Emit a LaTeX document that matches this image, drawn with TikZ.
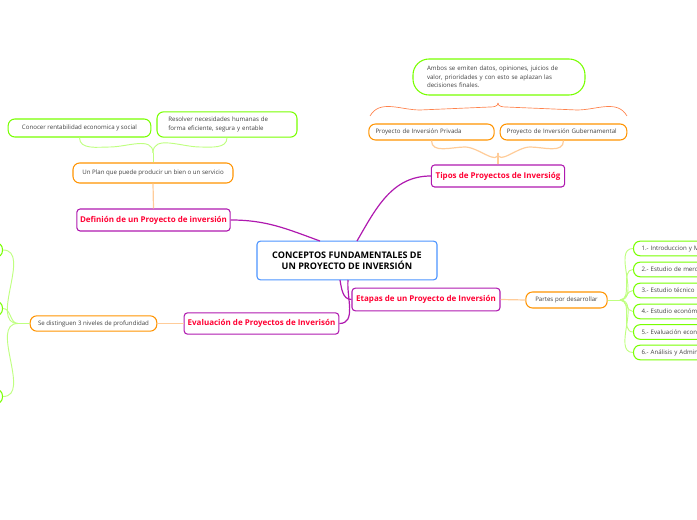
\documentclass[tikz,border=0pt]{standalone}
\usepackage{fontspec}
\setmainfont{Open Sans}
\begin{document}
\begin{tikzpicture}[x=0.75pt,y=-0.75pt,
  base/.style={draw,rounded corners=5pt,line width=0.8pt,inner sep=0pt,align=left,font=\fontsize{4.6}{6.5}\selectfont,text=black!75},
  green/.style={base,draw=green!60!yellow!80!lime},
  orange/.style={base,draw=orange!85!yellow},
  main/.style={draw=violet!70!magenta!90,line width=0.8pt,rounded corners=2.5pt,inner sep=0pt,font=\bfseries\fontsize{6}{8}\selectfont,text=red!80!magenta},
  purp/.style={draw=violet!70!magenta!90,line width=0.9pt},
  ocon/.style={draw=orange!40,line width=0.9pt},
  gcon/.style={draw=green!50!yellow!50,line width=0.7pt}]
\useasboundingbox (0,0) rectangle (697,520);
\clip (0,0) rectangle (697,520);
\node[draw=blue!60!cyan!70,line width=0.8pt,rounded corners=2.5pt,minimum width=135pt,minimum height=29pt,align=center,font=\bfseries\fontsize{6.8}{8.5}\selectfont] (c) at (347,260.5) {CONCEPTOS FUNDAMENTALES DE\\UN PROYECTO DE INVERSIÓN};
% Definicion branch
\node[main,minimum width=115pt,minimum height=16.5pt] (def) at (153.5,220) {Definión de un Proyecto de inversión};
\node[orange,minimum width=120pt,minimum height=15pt,align=center] (plan) at (153,173) {Un Plan que puede producir un bien o un servicio};
\node[green,minimum width=107pt,minimum height=13.5pt,align=center] (con) at (79.5,128) {Conocer rentabilidad economica y social};
\node[green,minimum width=105pt,minimum height=19pt,text width=88pt] (res) at (227,124.5) {Resolver necesidades humanas de\\forma eficiente, segura y entable};
\draw[purp] (def.east) to[out=0,in=160] (320,241);
\draw[ocon] (def.north) -- (plan.south);
\coordinate (jd) at (153,153);
\draw[gcon] (plan.north) -- (jd);
\draw[gcon] (jd) to[out=90,in=0] (110,147) to[out=180,in=-90] (con.south);
\draw[gcon] (jd) to[out=90,in=180] (200,147) to[out=0,in=-90] (res.south);
% Tipos branch
\node[main,minimum width=100pt,minimum height=16.5pt] (tip) at (498,176) {Tipos de Proyectos de Inversióg};
\node[orange,minimum width=94pt,minimum height=12pt,text width=84pt] (pri) at (431.5,132) {Proyecto de Inversión Privada};
\node[orange,minimum width=95pt,minimum height=12pt,text width=85pt] (gub) at (563.5,132) {Proyecto de Inversión Gubernamental};
\node[green,rounded corners=12pt,minimum width=129pt,minimum height=27pt,text width=108pt] (amb) at (499,77) {Ambos se emiten datos, opiniones, juicios de\\valor, prioridades y con esto se aplazan las\\decisiones finales.};
\draw[purp] (tip.west) to[out=180,in=60] (357,241);
\coordinate (jt) at (498,153);
\draw[ocon] (tip.north) -- (jt);
\draw[ocon] (jt) to[out=-90,in=0] (465,147) to[out=180,in=-90] (pri.south);
\draw[ocon] (jt) to[out=-90,in=180] (530,147) to[out=0,in=-90] (gub.south);
\coordinate (bl) at (370,116); \coordinate (br) at (627,116); \coordinate (bm) at (498,103);
\draw[orange!60!red!70,line width=0.5pt] (bl) to[out=60,in=180] (420,110) -- (490,107) to[out=0,in=-90] (bm);
\draw[orange!60!red!70,line width=0.5pt] (br) to[out=120,in=0] (577,110) -- (506,107) to[out=180,in=-90] (bm);
% Etapas branch
\node[main,minimum width=111pt,minimum height=17pt] (eta) at (426,299.5) {Etapas de un Proyecto de Inversión};
\node[orange,minimum width=61pt,minimum height=12pt,align=center] (par) at (566.5,300) {Partes por desarrollar};
\draw[purp] (340,280) to[out=-80,in=180] (eta.west);
\draw[ocon] (eta.east) -- (par.west);
\coordinate (je) at (620,300);
\draw[gcon] (par.east) -- (je);
\foreach \y/\t [count=\i] in {248.5/{1.- Introduccion y Marco de desarrollo},269.5/{2.- Estudio de mercado},290.5/{3.- Estudio técnico},311.5/{4.- Estudio económico},332/{5.- Evaluación economica},352.5/{6.- Análisis y Administración}}{
  \node[green,minimum width=90pt,minimum height=11pt,anchor=west,text width=130pt] (it\i) at (633,\y) {\hspace*{6pt}\t};
  \draw[gcon] (je) to[out=0,in=180] (it\i.west);
}
% Evaluacion branch
\node[main,minimum width=116pt,minimum height=16pt] (eva) at (261.5,323.5) {Evaluación de Proyectos de Inverisón};
\node[orange,minimum width=95pt,minimum height=11.5pt,align=center] (sed) at (93.5,323.5) {Se distinguen 3 niveles de profundidad};
\draw[purp] (348,280) to[out=-95,in=0] (eva.east);
\draw[ocon] (eva.west) -- (sed.east);
\coordinate (jl) at (18,323.5);
\draw[gcon] (sed.west) -- (jl);
\foreach \y [count=\i] in {250,308.5,396.5}{
  \node[green,minimum width=30pt,minimum height=11pt,anchor=east] (l\i) at (3,\y) {};
  \draw[gcon] (jl) to[out=180,in=0] (l\i.east);
}
\end{tikzpicture}
\end{document}
